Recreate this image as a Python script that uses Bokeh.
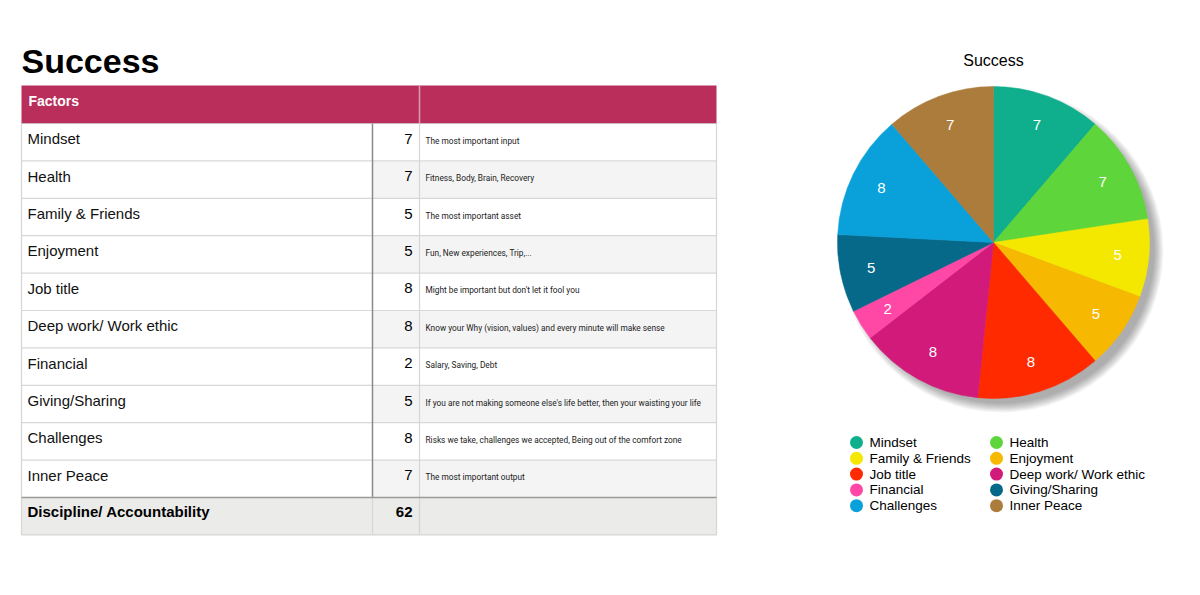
import math
from bokeh.plotting import figure
from bokeh.models import Range1d, ColumnDataSource
from bokeh.core.properties import value
from bokeh.embed import file_html
from bokeh.resources import INLINE

# ---------------- data ----------------
title = "Success"
header = "Factors"
factors = ["Mindset", "Health", "Family & Friends", "Enjoyment", "Job title",
           "Deep work/ Work ethic", "Financial", "Giving/Sharing", "Challenges", "Inner Peace"]
scores = [7, 7, 5, 5, 8, 8, 2, 5, 8, 7]
notes = ["The most important input",
         "Fitness, Body, Brain, Recovery",
         "The most important asset",
         "Fun, New experiences, Trip,...",
         "Might be important but don't let it fool you",
         "Know your Why (vision, values)  and every minute will make sense",
         "Salary, Saving, Debt",
         "If you are not making someone else's life better, then your waisting your life",
         "Risks we take, challenges we accepted, Being out of the comfort zone",
         "The most important output"]
total_label = "Discipline/ Accountability"
colors = ["#0FAE8C", "#5ED63B", "#F5E800", "#F6B800", "#FF2A00",
          "#D11A79", "#FF47A6", "#07698A", "#0AA0DA", "#AC7C3C"]

W, H = 1200, 595
FONT = value("Liberation Sans")


def Y(px):
    return H - px


p = figure(width=W, height=H, x_range=Range1d(0, W), y_range=Range1d(0, H),
           x_axis_type=None, y_axis_type=None, toolbar_location=None,
           output_backend="svg", min_border=0)
p.grid.visible = False
p.outline_line_color = None
p.background_fill_color = "white"
p.border_fill_color = "white"

# ---------------- table ----------------
X0, X1, X2, X3 = 21, 372, 419, 716
HEAD_T, HEAD_B = 85, 123
ROW_H = 37.4
n = len(factors)
row_tops = [HEAD_B + ROW_H * i for i in range(n)]
row_bots = [t + ROW_H for t in row_tops]
tot_t = HEAD_B + ROW_H * n
tot_b = tot_t + ROW_H

# title
p.text(x=[X0], y=[Y(60)], text=[title], text_font=FONT, text_font_style="bold",
       text_font_size="34px", text_color="black", text_baseline="middle")

# header
p.quad(left=[X0], right=[X3], top=[Y(HEAD_T)], bottom=[Y(HEAD_B)],
       fill_color="#B92E5A", line_color=None)
p.segment(x0=[X2], y0=[Y(HEAD_T)], x1=[X2], y1=[Y(HEAD_B)], line_color="#DE9AB2", line_width=1.5)
p.segment(x0=[X0], y0=[Y(HEAD_B)], x1=[X3], y1=[Y(HEAD_B)], line_color="#9a6a7a", line_width=1)
p.text(x=[X0 + 7], y=[Y(100)], text=[header], text_font=FONT, text_font_style="bold",
       text_font_size="14px", text_color="white", text_baseline="middle")

# rows
alt = ["white" if i % 2 == 0 else "#F4F4F4" for i in range(n)]
src = ColumnDataSource(dict(
    top=[Y(t) for t in row_tops], bottom=[Y(b) for b in row_bots],
    mid=[Y((t + b) / 2 - 3.5) for t, b in zip(row_tops, row_bots)],
    nmid=[Y((t + b) / 2 - 1.5) for t, b in zip(row_tops, row_bots)],
    factor=factors, score=[str(s) for s in scores], note=notes, alt=alt))
p.quad(left=X0, right=X1, top="top", bottom="bottom", source=src, fill_color="white", line_color=None)
p.quad(left=X1, right=X3, top="top", bottom="bottom", source=src, fill_color="alt", line_color=None)
# total row
p.quad(left=[X0], right=[X3], top=[Y(tot_t)], bottom=[Y(tot_b)], fill_color="#EBEBEA", line_color=None)

# grid lines
p.segment(x0=X0, y0="bottom", x1=X3, y1="bottom", source=src, line_color="#D8D8D8", line_width=1.2)
p.segment(x0=[X0, X2, X3, X1, X2], y0=[Y(HEAD_B)] * 3 + [Y(tot_t)] * 2,
          x1=[X0, X2, X3, X1, X2], y1=[Y(tot_b)] * 5, line_color="#D6D6D6", line_width=1.2)
p.segment(x0=[X0], y0=[Y(tot_b)], x1=[X3], y1=[Y(tot_b)], line_color="#D6D6D6", line_width=1.2)
p.segment(x0=[X1], y0=[Y(HEAD_B)], x1=[X1], y1=[Y(tot_t)], line_color="#8A8A8A", line_width=1.5)
p.segment(x0=[X0], y0=[Y(tot_t)], x1=[X3], y1=[Y(tot_t)], line_color="#9A9A9A", line_width=1.5)

p.text(x=X0 + 6, y="mid", text="factor", source=src, text_font=FONT, text_font_size="15px",
       text_color="#111111", text_baseline="middle")
p.text(x=X2 - 7, y="mid", text="score", source=src, text_font=FONT, text_font_size="15px",
       text_color="black", text_baseline="middle", text_align="right")
p.text(x=X2 + 6, y="nmid", text="note", source=src, text_font=value("Roboto"), text_font_size="8.3px",
       text_color="#222222", text_baseline="middle")
tmid = Y((tot_t + tot_b) / 2 - 4.5)
p.text(x=[X0 + 6], y=[tmid], text=[total_label], text_font=FONT, text_font_style="bold",
       text_font_size="15px", text_color="black", text_baseline="middle")
p.text(x=[X2 - 7], y=[tmid], text=[str(sum(scores))], text_font=FONT, text_font_style="bold",
       text_font_size="15px", text_color="black", text_baseline="middle", text_align="right")

# ---------------- pie ----------------
CX, CY, R = 993, Y(242), 156
total = sum(scores)
starts, ends, lx, ly = [], [], [], []
cum = 0
for s in scores:
    a0 = math.pi / 2 - cum / total * 2 * math.pi
    a1 = math.pi / 2 - (cum + s) / total * 2 * math.pi
    am = (a0 + a1) / 2
    starts.append(a0)
    ends.append(a1)
    lx.append(CX + 0.8 * R * math.cos(am))
    ly.append(CY + 0.8 * R * math.sin(am))
    cum += s

# soft drop shadow
for k in range(10):
    p.circle(x=[CX + 8], y=[CY - 8], radius=R + 6 - k, fill_color="black",
             fill_alpha=0.035, line_color=None)

pie = ColumnDataSource(dict(start=starts, end=ends, color=colors, lx=lx, ly=ly,
                            lab=[str(s) for s in scores], factor=factors))
p.wedge(x=CX, y=CY, radius=R, start_angle="start", end_angle="end", direction="clock",
        fill_color="color", line_color="color", line_width=0.5, source=pie)
p.text(x="lx", y="ly", text="lab", source=pie, text_font=FONT, text_font_size="15px",
       text_color="white", text_align="center", text_baseline="middle")
p.text(x=[CX], y=[Y(60)], text=[title], text_font=FONT, text_font_size="16px",
       text_color="black", text_align="center", text_baseline="middle")

# legend
leg_x, leg_y = [], []
for i in range(n):
    col, row = i % 2, i // 2
    leg_x.append(856 + col * 140)
    leg_y.append(Y(442 + row * 15.8))
leg = ColumnDataSource(dict(x=leg_x, tx=[x + 13 for x in leg_x], y=leg_y,
                            color=colors, factor=factors))
p.scatter(x="x", y="y", size=13, fill_color="color", line_color=None, source=leg)
p.text(x="tx", y="y", text="factor", source=leg, text_font=FONT, text_font_size="13.5px",
       text_color="black", text_baseline="middle")

open("out.html", "w").write(file_html(p, INLINE))
